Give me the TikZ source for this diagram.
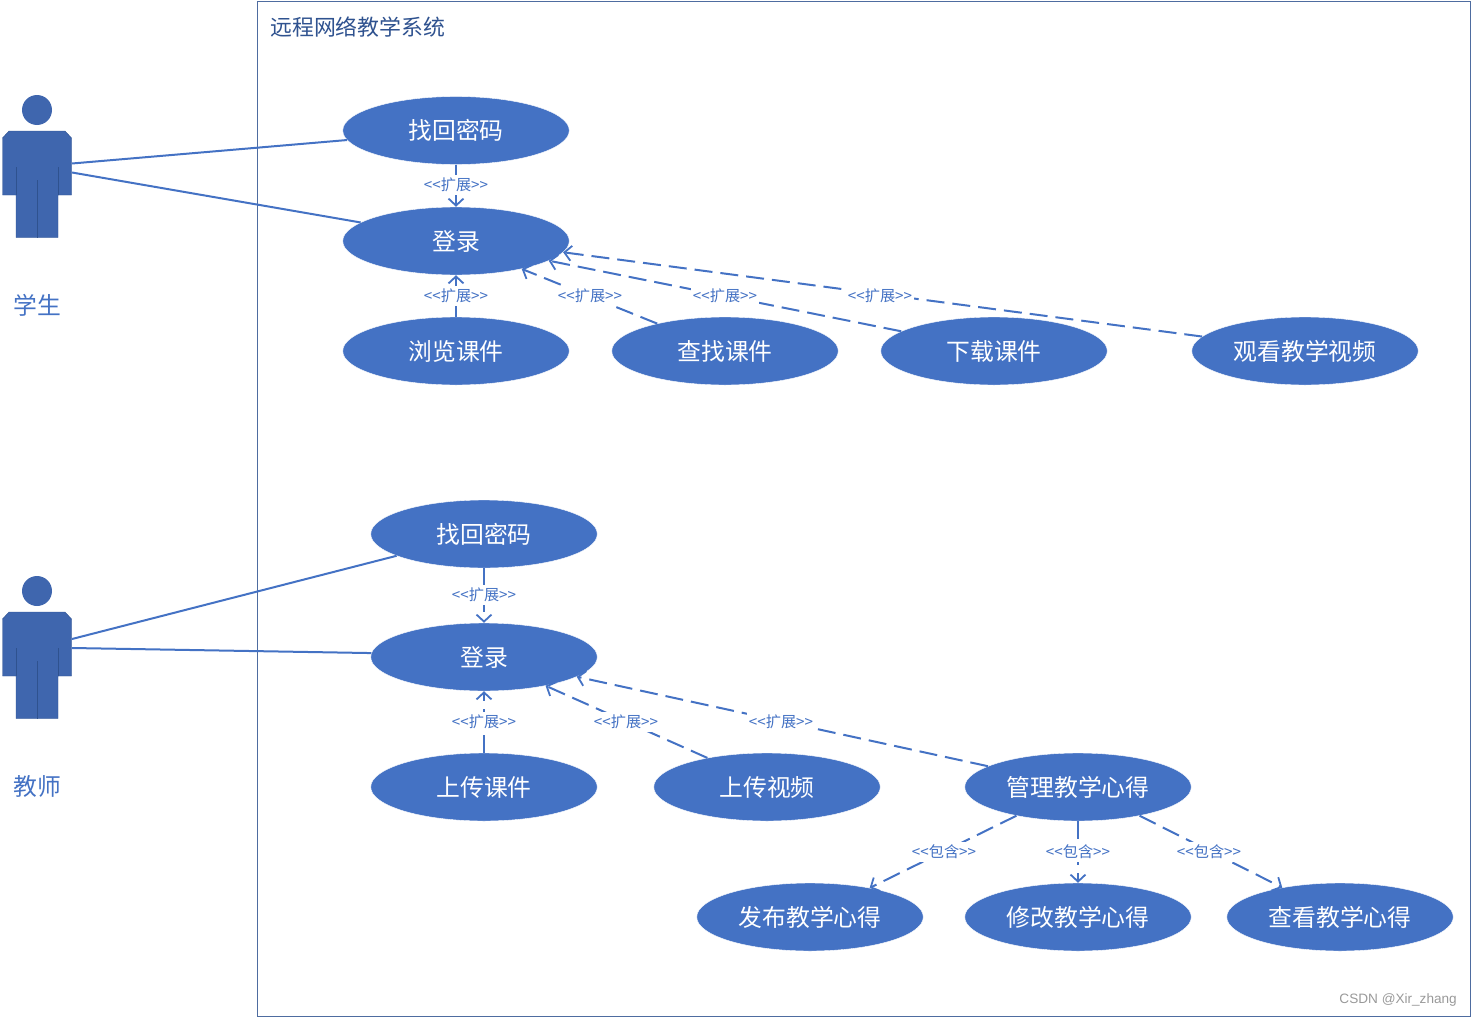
\documentclass[tikz,border=0pt]{standalone}
\usepackage{fontspec}
\setmainfont{Noto Sans CJK SC}
\newfontfamily\wmfont{Liberation Sans}
\usetikzlibrary{arrows.meta,shapes.geometric}
\definecolor{ublue}{HTML}{4472C4}
\definecolor{ubody}{HTML}{3F66AE}
\definecolor{uedge}{HTML}{2F528F}
\tikzset{
  usecase/.style={ellipse,fill=ublue,draw=white,line width=0.4pt,minimum width=226.5pt,minimum height=68pt,inner sep=0pt,text=white,font=\fontsize{23.8}{26}\selectfont,yshift=0pt},
  conn/.style={ublue,line width=2pt},
  dep/.style={conn,dash pattern=on 18pt off 8pt,-{Straight Barb[length=7pt,width=15pt,line width=1.8pt]}},
  tag/.style={fill=white,inner ysep=3pt,inner xsep=1.5pt,text=ublue,font=\fontsize{15.2}{17}\selectfont},
  actorname/.style={text=ublue,inner sep=0pt,font=\fontsize{23.8}{26}\selectfont},
  actor/.pic={
    \fill[ubody] (0,-21) circle (15);
    \draw[uedge,fill=ubody,line width=0.4pt] (-28,0) -- (28,0) -- (34.5,7) -- (34.5,64) -- (21,64) -- (21,106.5) -- (-21,106.5) -- (-21,64) -- (-34.5,64) -- (-34.5,7) -- cycle;
    \draw[uedge,line width=0.7pt] (-21,36) -- (-21,64) (21,36) -- (21,64) (0,49) -- (0,106.5);
  }
}
\newcommand{\ucl}[1]{\raisebox{1pt}{#1}}
\begin{document}
\begin{tikzpicture}[x=1pt,y=-1pt]
\useasboundingbox (0,0) rectangle (1472,1017);
\node[draw=uedge!85!white,line width=0.8pt,minimum width=1213pt,minimum height=1015pt,inner sep=0pt] (frame) at (863.5,508.5) {};
\node[anchor=west,inner sep=0pt,text=uedge,font=\fontsize{21.9}{24}\selectfont] (title) at (270,27) {远程网络教学系统};
\node[anchor=east,inner sep=0pt,text=black!40,font=\wmfont\fontsize{13.6}{16}\selectfont] (wm) at (1457,1000) {CSDN @Xir\_zhang};

\pic at (37,131) {actor};
\pic at (37,612) {actor};
\coordinate (s1) at (72,163.5);
\coordinate (s2) at (72,172.5);
\coordinate (t1) at (72,639);
\coordinate (t2) at (72,648);
\node[actorname] (student) at (37,305) {学生};
\node[actorname] (teacher) at (37,786) {教师};

\node[usecase] (a1) at (456,130.5) {\ucl{找回密码}};
\node[usecase] (a2) at (456,241) {\ucl{登录}};
\node[usecase] (a3) at (456,351) {\ucl{浏览课件}};
\node[usecase] (a4) at (725,351) {\ucl{查找课件}};
\node[usecase] (a5) at (994,351) {\ucl{下载课件}};
\node[usecase] (a6) at (1305,351) {\ucl{观看教学视频}};
\node[usecase] (b1) at (484,534) {\ucl{找回密码}};
\node[usecase] (b2) at (484,657) {\ucl{登录}};
\node[usecase] (b3) at (484,787) {\ucl{上传课件}};
\node[usecase] (b4) at (767,787) {\ucl{上传视频}};
\node[usecase] (b5) at (1078,787) {\ucl{管理教学心得}};
\node[usecase] (b6) at (810,917) {\ucl{发布教学心得}};
\node[usecase] (b7) at (1078,917) {\ucl{修改教学心得}};
\node[usecase] (b8) at (1340,917) {\ucl{查看教学心得}};

\draw[conn] (s1) -- (a1.185);
\draw[conn] (s2) -- (a2.169.6);
\draw[conn] (t1) -- (b1.194.7);
\draw[conn] (t2) -- (b2.178.5);

\draw[dep] (a1.270) -- (a2.90);
\draw[dep] (a3.90) -- (a2.270);
\draw[dep] (a4.158) -- (a2.-23);
\draw[dep] (a5.168) -- (a2.-12);
\draw[dep] (a6.172) -- (a2.-6.7);
\draw[dep] (b1.270) -- (b2.90);
\draw[dep] (b3.90) -- (b2.270);
\draw[dep] (b4.154.6) -- (b2.-25);
\draw[dep] (b5.167.5) -- (b2.-12.5);
\draw[dep] (b5.205) -- (b6.26.6);
\draw[dep] (b5.270) -- (b7.90);
\draw[dep] (b5.-25) -- (b8.153);

\node[tag] (l1) at (456,185) {{<}{<}扩展{>}{>}};
\node[tag] (l2) at (456,296) {{<}{<}扩展{>}{>}};
\node[tag] (l3) at (590,296) {{<}{<}扩展{>}{>}};
\node[tag] (l4) at (725,296) {{<}{<}扩展{>}{>}};
\node[tag] (l5) at (880,296) {{<}{<}扩展{>}{>}};
\node[tag] (l6) at (484,595) {{<}{<}扩展{>}{>}};
\node[tag] (l7) at (484,722) {{<}{<}扩展{>}{>}};
\node[tag] (l8) at (626,722) {{<}{<}扩展{>}{>}};
\node[tag] (l9) at (781,722) {{<}{<}扩展{>}{>}};
\node[tag] (l10) at (944,852) {{<}{<}包含{>}{>}};
\node[tag] (l11) at (1078,852) {{<}{<}包含{>}{>}};
\node[tag] (l12) at (1209,852) {{<}{<}包含{>}{>}};
\end{tikzpicture}
\end{document}
